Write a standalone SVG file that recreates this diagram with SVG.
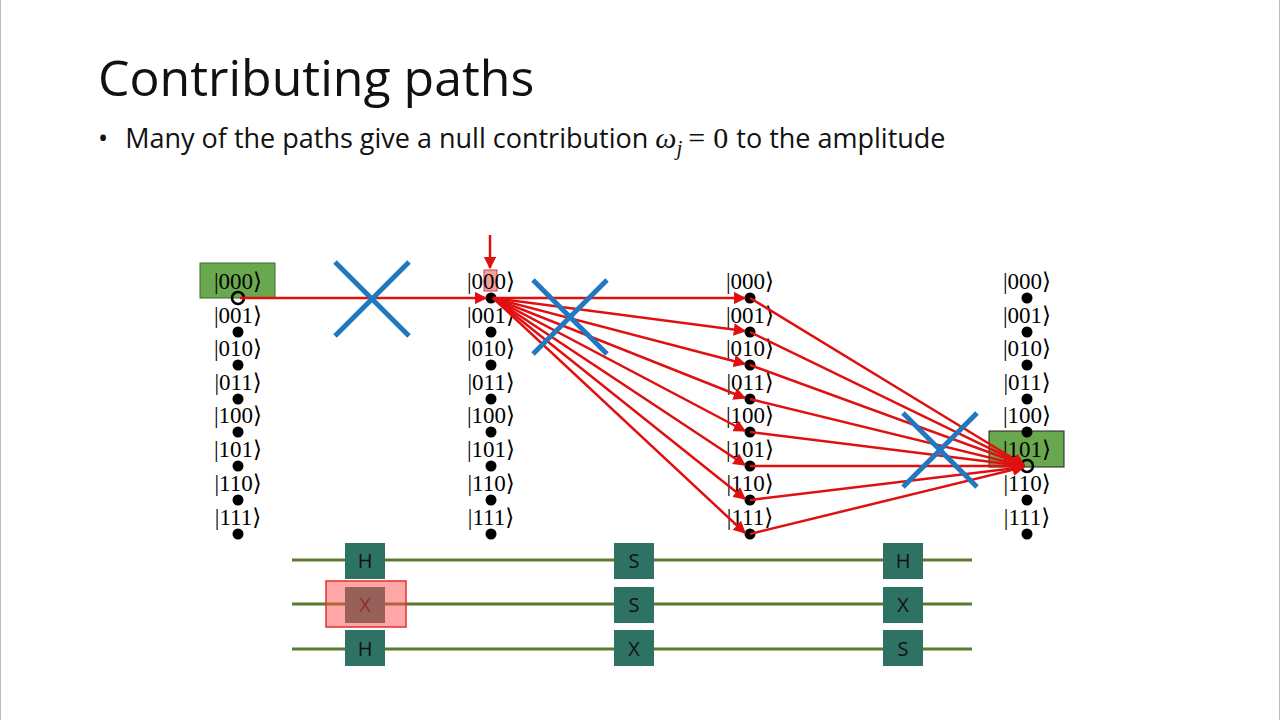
<svg xmlns="http://www.w3.org/2000/svg" width="1280" height="720" viewBox="0 0 1280 720">
<style>
.t{font-family:"Liberation Serif","DejaVu Serif",serif;font-size:23px;fill:#000;text-anchor:middle}
.d{fill:#000}
.e{stroke:#e01010;stroke-width:2.5;fill:none;marker-end:url(#a)}
.x{stroke:#1f78c0;stroke-width:5;stroke-linecap:butt}
.w{stroke:#5a7a2e;stroke-width:3}
.g{fill:#2e7263}
.gl{font-family:"Open Sans",sans-serif;font-size:20px;fill:#111;text-anchor:middle}
</style>
<defs>
<marker id="a" viewBox="0 0 10 10" refX="9" refY="5" markerWidth="5" markerHeight="5" orient="auto"><path d="M0,0L10,5L0,10z" fill="#e01010"/></marker>
</defs>
<rect width="1280" height="720" fill="#fff"/>
<line x1="0.5" y1="0" x2="0.5" y2="720" stroke="#bbb"/>
<line x1="1279.5" y1="0" x2="1279.5" y2="720" stroke="#bbb"/>
<text x="98" y="96" font-family="Open Sans, sans-serif" font-size="50" fill="#111">Contributing paths</text>
<text x="98" y="148" font-family="Open Sans, sans-serif" font-size="27" fill="#111">• <tspan dx="10">Many of the paths give a null contribution </tspan><tspan font-family="Liberation Serif,serif" font-style="italic" font-size="30">ω</tspan><tspan font-family="Liberation Serif,serif" font-style="italic" font-size="21" dy="7">j</tspan><tspan font-family="Liberation Serif,serif" font-size="30" dy="-7" dx="6">=</tspan><tspan font-family="Liberation Serif,serif" font-size="30" dx="8">0</tspan><tspan dx="8">to the amplitude</tspan></text>

<g id="highlights">
<rect x="200" y="263" width="75" height="35" fill="#6aa84f" stroke="#3d6b2a"/>
<rect x="989" y="431" width="75" height="36" fill="#6aa84f" stroke="#222"/>
<rect x="484" y="270" width="13" height="21" fill="#f4a0a0" stroke="#d04040"/>
</g>

<g id="col1">
<text class="t" x="238" y="289">|000⟩</text><circle cx="238" cy="298" r="6" fill="none" stroke="#000" stroke-width="2.5"/>
<text class="t" x="238" y="323">|001⟩</text><circle class="d" cx="238" cy="332" r="5.5"/>
<text class="t" x="238" y="356">|010⟩</text><circle class="d" cx="238" cy="365" r="5.5"/>
<text class="t" x="238" y="390">|011⟩</text><circle class="d" cx="238" cy="399" r="5.5"/>
<text class="t" x="238" y="423">|100⟩</text><circle class="d" cx="238" cy="432" r="5.5"/>
<text class="t" x="238" y="457">|101⟩</text><circle class="d" cx="238" cy="466" r="5.5"/>
<text class="t" x="238" y="491">|110⟩</text><circle class="d" cx="238" cy="500" r="5.5"/>
<text class="t" x="238" y="525">|111⟩</text><circle class="d" cx="238" cy="534" r="5.5"/>
</g>
<g id="col2">
<text class="t" x="491" y="289">|000⟩</text><circle class="d" cx="491" cy="298" r="5.5"/>
<text class="t" x="491" y="323">|001⟩</text><circle class="d" cx="491" cy="332" r="5.5"/>
<text class="t" x="491" y="356">|010⟩</text><circle class="d" cx="491" cy="365" r="5.5"/>
<text class="t" x="491" y="390">|011⟩</text><circle class="d" cx="491" cy="399" r="5.5"/>
<text class="t" x="491" y="423">|100⟩</text><circle class="d" cx="491" cy="432" r="5.5"/>
<text class="t" x="491" y="457">|101⟩</text><circle class="d" cx="491" cy="466" r="5.5"/>
<text class="t" x="491" y="491">|110⟩</text><circle class="d" cx="491" cy="500" r="5.5"/>
<text class="t" x="491" y="525">|111⟩</text><circle class="d" cx="491" cy="534" r="5.5"/>
</g>
<g id="col3">
<text class="t" x="750" y="289">|000⟩</text><circle class="d" cx="750" cy="298" r="5.5"/>
<text class="t" x="750" y="323">|001⟩</text><circle class="d" cx="750" cy="332" r="5.5"/>
<text class="t" x="750" y="356">|010⟩</text><circle class="d" cx="750" cy="365" r="5.5"/>
<text class="t" x="750" y="390">|011⟩</text><circle class="d" cx="750" cy="399" r="5.5"/>
<text class="t" x="750" y="423">|100⟩</text><circle class="d" cx="750" cy="432" r="5.5"/>
<text class="t" x="750" y="457">|101⟩</text><circle class="d" cx="750" cy="466" r="5.5"/>
<text class="t" x="750" y="491">|110⟩</text><circle class="d" cx="750" cy="500" r="5.5"/>
<text class="t" x="750" y="525">|111⟩</text><circle class="d" cx="750" cy="534" r="5.5"/>
</g>
<g id="col4">
<text class="t" x="1027" y="289">|000⟩</text><circle class="d" cx="1027" cy="298" r="5.5"/>
<text class="t" x="1027" y="323">|001⟩</text><circle class="d" cx="1027" cy="332" r="5.5"/>
<text class="t" x="1027" y="356">|010⟩</text><circle class="d" cx="1027" cy="365" r="5.5"/>
<text class="t" x="1027" y="390">|011⟩</text><circle class="d" cx="1027" cy="399" r="5.5"/>
<text class="t" x="1027" y="423">|100⟩</text><circle class="d" cx="1027" cy="432" r="5.5"/>
<text class="t" x="1027" y="457">|101⟩</text><circle cx="1027" cy="466" r="6" fill="none" stroke="#000" stroke-width="2.5"/>
<text class="t" x="1027" y="491">|110⟩</text><circle class="d" cx="1027" cy="500" r="5.5"/>
<text class="t" x="1027" y="525">|111⟩</text><circle class="d" cx="1027" cy="534" r="5.5"/>
</g>

<g id="connectors">
<line class="e" x1="490" y1="235" x2="490" y2="268"/>
<line class="e" x1="240" y1="298" x2="486" y2="298"/>
<line class="e" x1="493" y1="298" x2="745" y2="298"/>
<line class="e" x1="493" y1="298" x2="745" y2="331"/>
<line class="e" x1="493" y1="298" x2="745" y2="364"/>
<line class="e" x1="493" y1="298" x2="745" y2="398"/>
<line class="e" x1="493" y1="298" x2="745" y2="431"/>
<line class="e" x1="493" y1="298" x2="745" y2="465"/>
<line class="e" x1="493" y1="298" x2="745" y2="499"/>
<line class="e" x1="493" y1="298" x2="745" y2="533"/>
<line class="e" x1="750" y1="298" x2="1024" y2="465"/>
<line class="e" x1="750" y1="332" x2="1024" y2="465"/>
<line class="e" x1="750" y1="365" x2="1024" y2="465"/>
<line class="e" x1="750" y1="399" x2="1024" y2="466"/>
<line class="e" x1="750" y1="432" x2="1024" y2="466"/>
<line class="e" x1="750" y1="466" x2="1024" y2="466"/>
<line class="e" x1="750" y1="500" x2="1024" y2="467"/>
<line class="e" x1="750" y1="534" x2="1024" y2="467"/>
</g>

<g id="crosses">
<line class="x" x1="335" y1="262" x2="409" y2="336"/><line class="x" x1="409" y1="262" x2="335" y2="336"/>
<line class="x" x1="533" y1="280" x2="607" y2="354"/><line class="x" x1="607" y1="280" x2="533" y2="354"/>
<line class="x" x1="903" y1="413" x2="977" y2="487"/><line class="x" x1="977" y1="413" x2="903" y2="487"/>
</g>

<g id="circuit">
<line class="w" x1="292" y1="560" x2="972" y2="560"/>
<line class="w" x1="292" y1="604" x2="972" y2="604"/>
<line class="w" x1="292" y1="649" x2="972" y2="649"/>
<rect class="g" x="345" y="543" width="40" height="36"/><text class="gl" x="365" y="568">H</text>
<rect class="g" x="345" y="587" width="40" height="36"/><text class="gl" x="365" y="612">X</text>
<rect class="g" x="345" y="630" width="40" height="36"/><text class="gl" x="365" y="656">H</text>
<rect class="g" x="614" y="543" width="40" height="36"/><text class="gl" x="634" y="568">S</text>
<rect class="g" x="614" y="587" width="40" height="36"/><text class="gl" x="634" y="612">S</text>
<rect class="g" x="614" y="630" width="40" height="36"/><text class="gl" x="634" y="656">X</text>
<rect class="g" x="883" y="543" width="40" height="36"/><text class="gl" x="903" y="568">H</text>
<rect class="g" x="883" y="587" width="40" height="36"/><text class="gl" x="903" y="612">X</text>
<rect class="g" x="883" y="630" width="40" height="36"/><text class="gl" x="903" y="656">S</text>
<rect x="326" y="581" width="80" height="46" fill="#ff5050" fill-opacity="0.5" stroke="#e03030" stroke-width="1.5"/>
</g>
</svg>
